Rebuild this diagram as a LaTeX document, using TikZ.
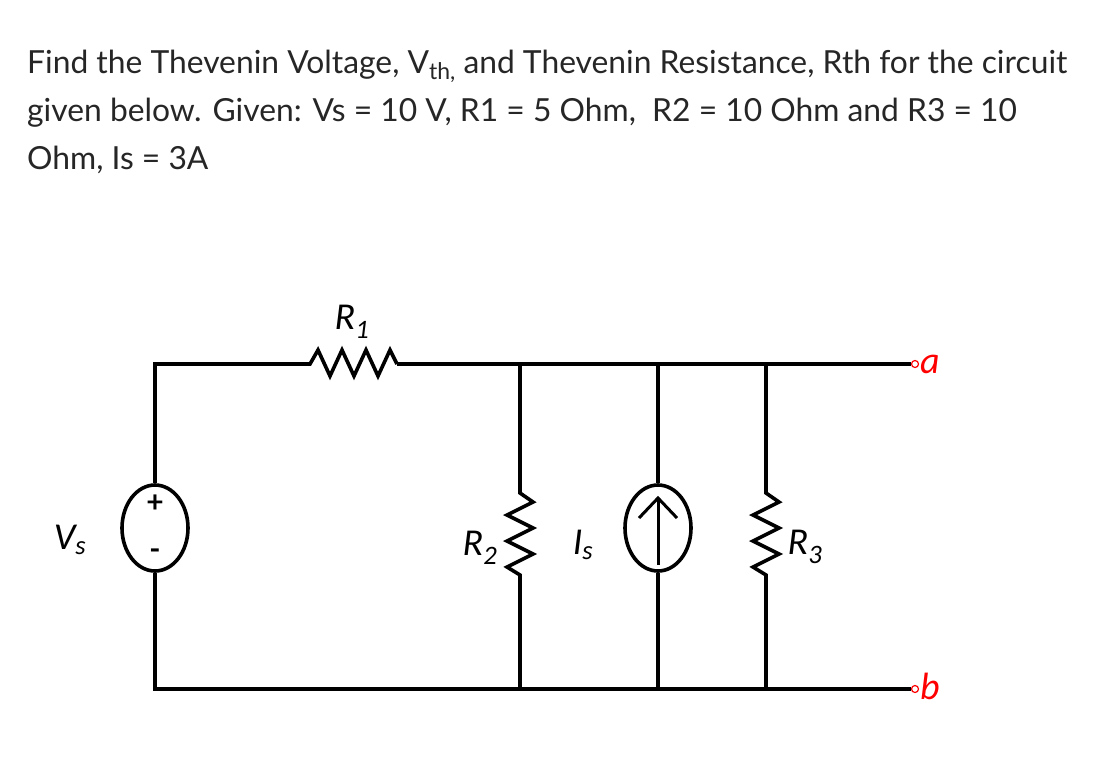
\documentclass[tikz,border=0pt]{standalone}
\usepackage{fontspec}
\setmainfont{Lato}
\newfontfamily\carlitofam{Carlito}
\usetikzlibrary{shapes.geometric}
\begin{document}
\begin{tikzpicture}[x=1pt,y=-1pt,
  w/.style={line width=3.6pt},
  lbl/.style={font=\carlitofam\itshape\fontsize{38}{38}\selectfont,inner sep=0},
  term/.style={circle,draw=red,line width=1.2pt,minimum size=7pt,inner sep=0},
  src/.style={ellipse,draw,line width=3.6pt,minimum width=66pt,minimum height=86pt,inner sep=0}]
\useasboundingbox (0,0) rectangle (1102,780);
\node[anchor=base west,inner sep=0,text=black!85,font=\fontsize{31.8}{48}\selectfont,align=left] (txt) at (27,73)
 {Find the Thevenin Voltage, V\raisebox{-6pt}{\fontsize{23}{23}\selectfont th,} and Thevenin Resistance, Rth for the circuit};
\node[anchor=base west,inner sep=0,text=black!85,font=\fontsize{31.8}{48}\selectfont] (t2) at (27,121)
 {given below. Given: Vs = 10 V, R1 = 5 Ohm,\ \ R2 = 10 Ohm and R3 = 10};
\node[anchor=base west,inner sep=0,text=black!85,font=\fontsize{31.8}{48}\selectfont] (t3) at (27,169) {Ohm, Is = 3A};
% nodes
\coordinate (tl) at (155,364); \coordinate (bl) at (155,689);
\node[src] (vs) at (155,528) {};
\node[font=\fontsize{30}{30}\selectfont\bfseries] (plus) at (155,504) {+};
\node[font=\fontsize{30}{30}\selectfont\bfseries] (minus) at (155,554) {-};
\coordinate (r1a) at (307,364); \coordinate (r1b) at (397,364);
\coordinate (n2t) at (520,364); \coordinate (n2b) at (520,689);
\coordinate (n3t) at (658,364); \coordinate (n3b) at (658,689);
\node[src] (is) at (658,528) {};
\coordinate (n4t) at (766,364); \coordinate (n4b) at (766,689);
\node[term] (a) at (915,364) {};
\node[term] (b) at (915,689) {};
% wires
\draw[w] (vs.north) -- (tl) -- (r1a);
\draw[w,line join=miter] (r1a) -- (310,364) -- (318,350) -- (330,376) -- (342,350) -- (354,376) -- (366,350) -- (378,376) -- (390,350) -- (397,364);
\draw[w] (r1b) -- (a.west);
\draw[w] (vs.south) -- (bl) -- (b.west);
\draw[w,line join=miter] (n2t) -- (520,493) -- (533,502) -- (507,515) -- (533,528) -- (507,541) -- (533,554) -- (507,567) -- (520,575) -- (n2b);
\draw[w,line join=miter] (n4t) -- (766,493) -- (779,502) -- (753,515) -- (779,528) -- (753,541) -- (779,554) -- (753,567) -- (766,575) -- (n4b);
\draw[w] (n3t) -- (is.north);
\draw[w] (is.south) -- (n3b);
\draw[line width=3pt] (658,565) -- (658,498);
\draw[line width=3pt] (639,518) -- (658,498) -- (677,518);
% labels
\node[lbl] (lr1) at (352,322) {R\textsubscript{1}};
\node[lbl] (lvs) at (70,540) {V\textsubscript{s}};
\node[lbl] (lr2) at (480,548) {R\textsubscript{2}};
\node[lbl] (lis) at (583,545) {I\textsubscript{s}};
\node[lbl] (lr3) at (805,547) {R\textsubscript{3}};
\node[lbl,text=red,anchor=west] (la) at (920,364) {a};
\node[lbl,text=red,anchor=west] (lb) at (920,686) {b};
\end{tikzpicture}
\end{document}
